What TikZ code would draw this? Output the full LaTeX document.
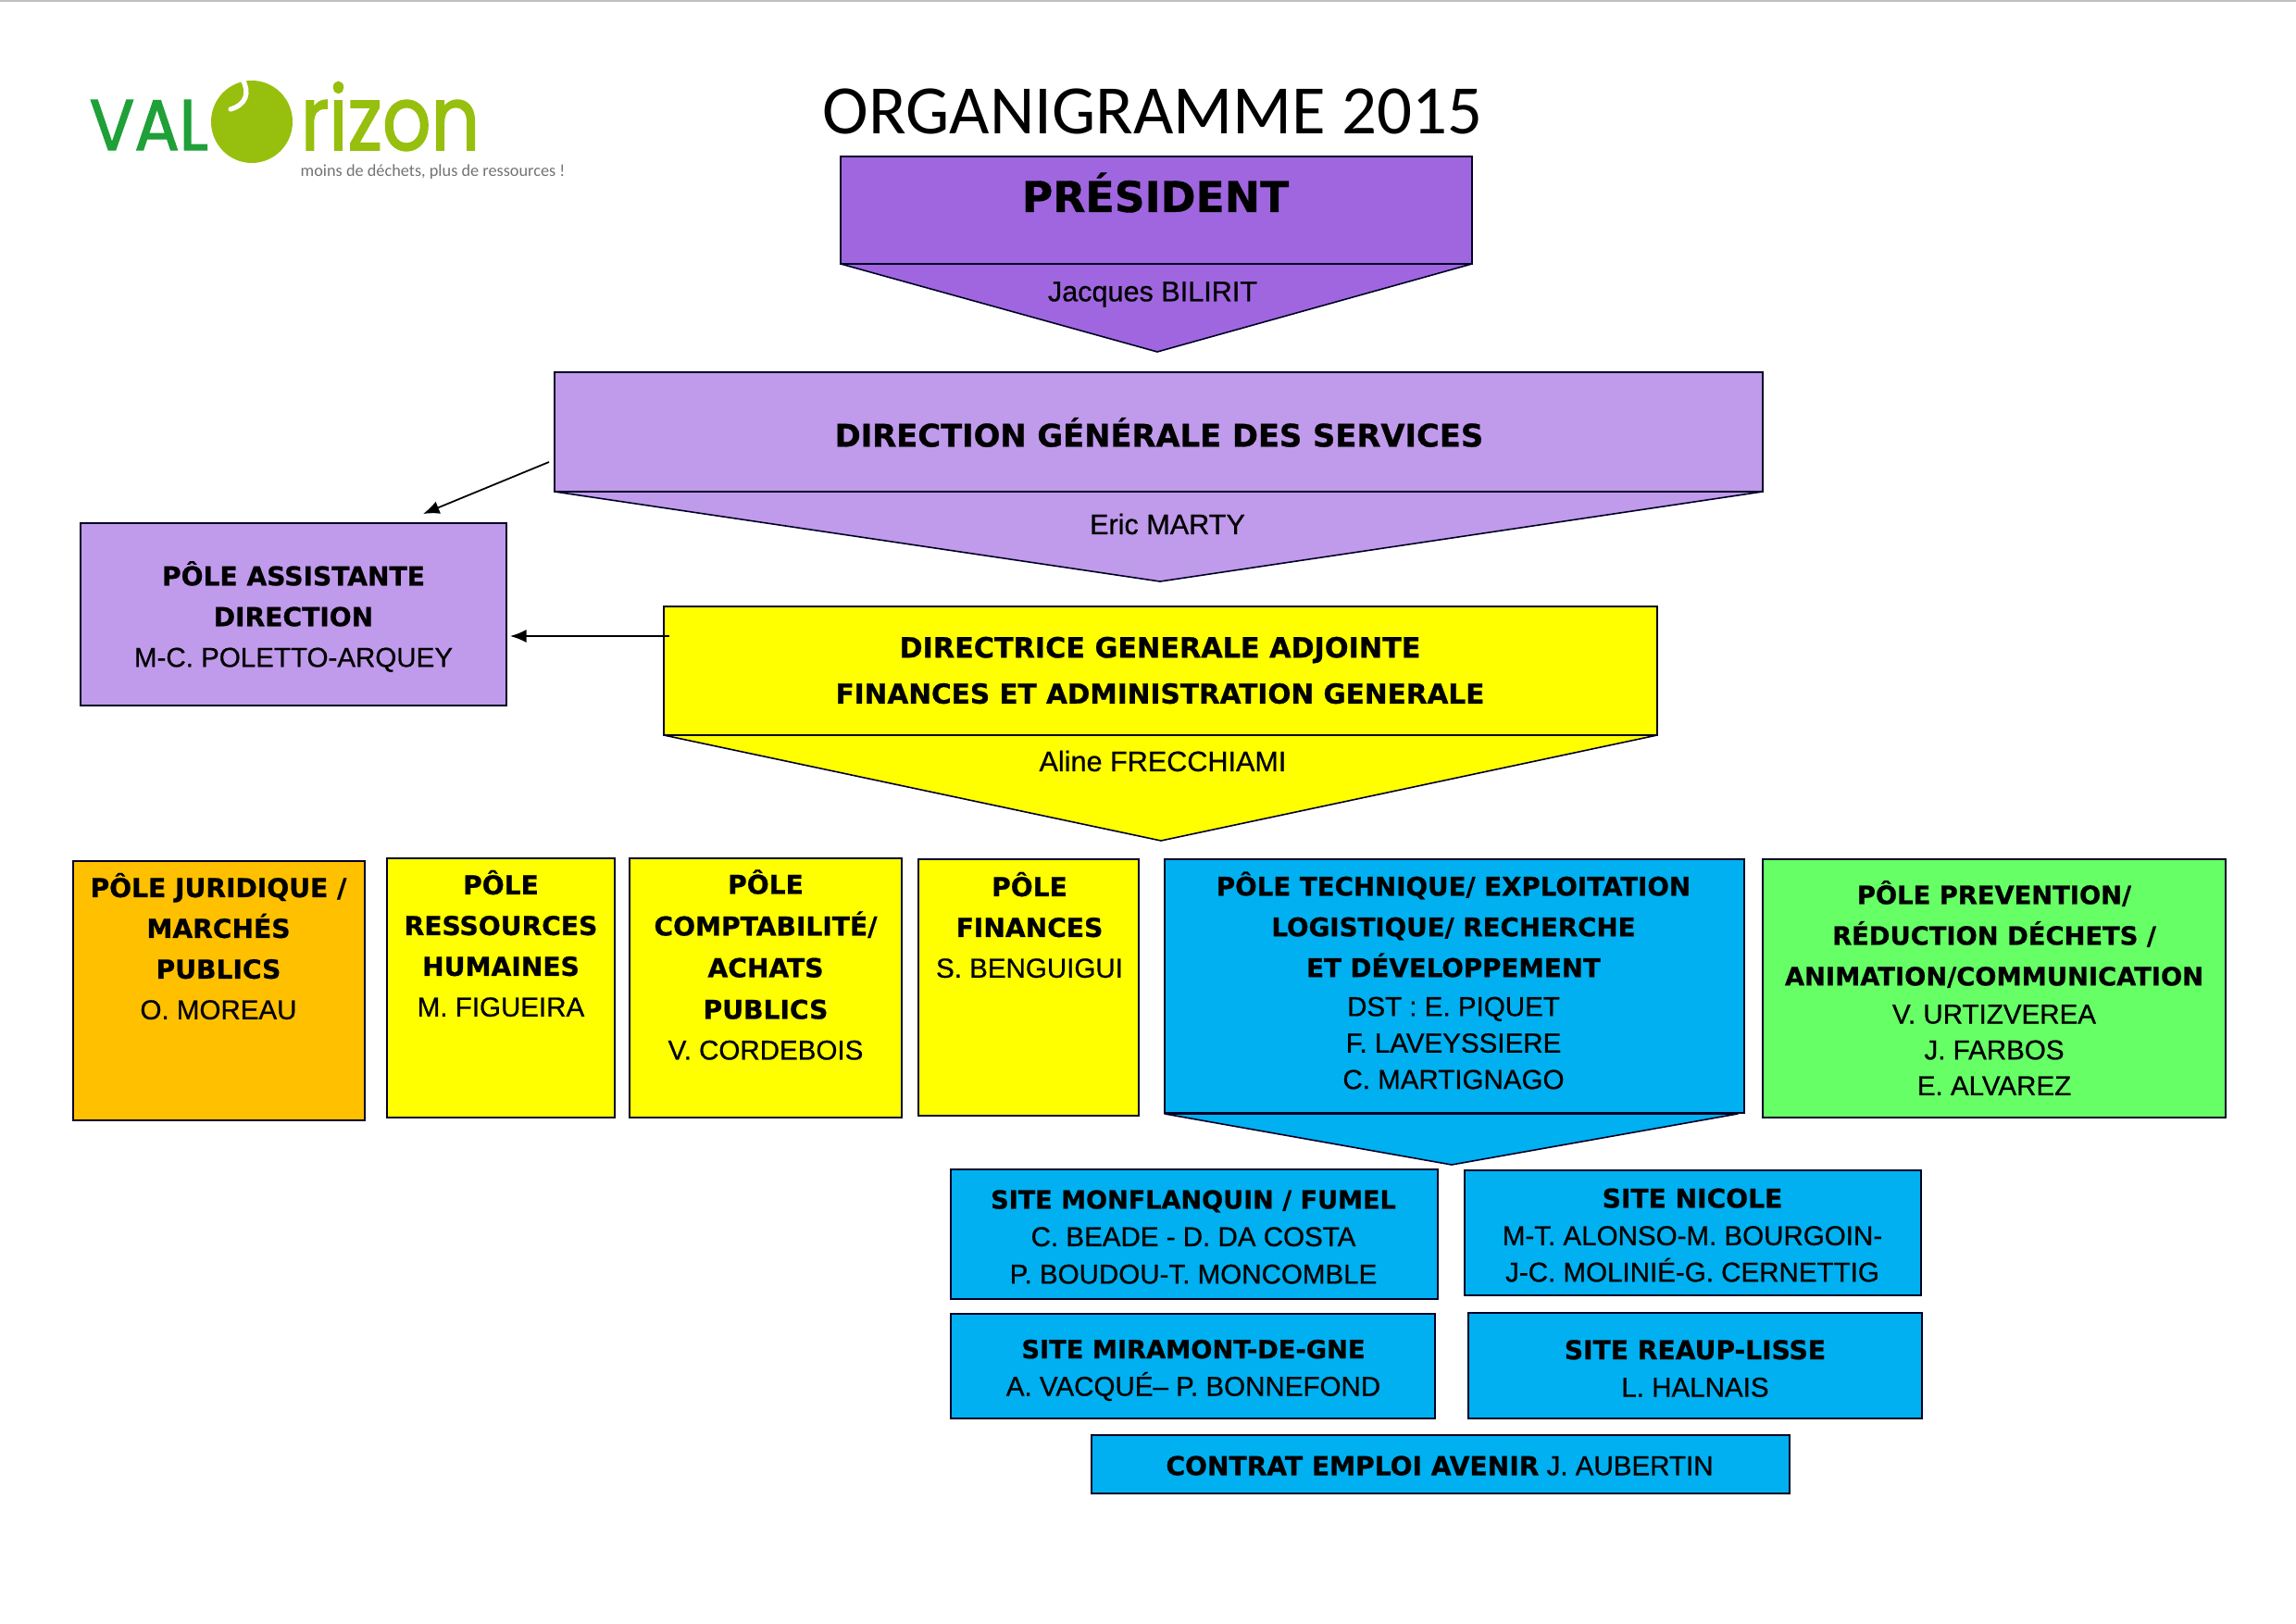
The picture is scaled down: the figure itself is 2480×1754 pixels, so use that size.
\documentclass[tikz,border=0pt]{standalone}
\usepackage{fontspec}
\setmainfont{Liberation Sans}[FakeBold=0.7]
\newfontfamily\blackfont{DejaVu Sans}[BoldFeatures={FakeBold=0.8}]
\newfontfamily\titlefont{Carlito}
\newfontfamily\logovalfont{Poppins}[FakeBold=1.6,FakeStretch=0.93]
\newfontfamily\logorizonfont{Poppins}[FakeBold=1.6,FakeStretch=0.85]
\newfontfamily\sloganfont{Carlito}
\usetikzlibrary{calc,arrows.meta}
\definecolor{prescol}{HTML}{A066E0}
\definecolor{dircol}{HTML}{C09AEB}
\definecolor{jaunecol}{HTML}{FFFF00}
\definecolor{orangecol}{HTML}{FFC000}
\definecolor{bleucol}{HTML}{00B0F0}
\definecolor{vertcol}{HTML}{66FF66}
\definecolor{valcol}{HTML}{1FA038}
\definecolor{rizoncol}{HTML}{97BF0D}
\def\orgbox[#1](#2)(#3,#4)(#5,#6){\node[orgrect,#1,minimum width={(#5-#3)*0.01cm},minimum height={(#6-#4)*0.01cm}] (#2) at ({(#3+#5)/2},{(#4+#6)/2}) {};}
\def\txsize{8}
\def\tx#1{{\blackfont\bfseries\fontsize{\txsize}{12.5}\selectfont #1}}
\tikzset{
	orgrect/.style={draw=black!85!blue,line width=0.45pt,rectangle,inner sep=0pt,outer sep=0pt},
	orgtri/.style={draw=black!85!blue,line width=0.45pt,line join=round},
	orgtxt/.style={align=center,inner sep=0pt,font=\fontsize{8.4}{12.5}\selectfont},
	orghead/.style={align=center,inner sep=0pt,font=\fontsize{8.7}{12.5}\selectfont},
	orgarrow/.style={-{Latex[length=5pt,width=4pt]},line width=0.5pt},
	txs/.code={\def\txsize{#1}}
}

\begin{document}
\begin{tikzpicture}[x=0.01cm,y=-0.01cm]
	\useasboundingbox (0,0) rectangle (2480,1754);
	\draw[black!25,line width=0.6pt] (0,1) -- (2480,1);

	%%%%% LOGO %%%%%
	\fill[rizoncol] (272,131.5) ellipse (44 and 44.5);
	\draw[white,line width=1.5pt,line cap=round] (262,86) .. controls (270,100) and (266,113) .. (249,118);
	\node[font=\logovalfont\fontsize{22}{22}\selectfont,text=valcol,anchor=base west,inner sep=0pt] (logoval) at (96,162) {VAL};
	\node[font=\logorizonfont\fontsize{27.5}{27.5}\selectfont,text=rizoncol,anchor=base west,inner sep=0pt] (logorizon) at (324,162) {rizon};
	\node[font=\sloganfont\fontsize{5.2}{8}\selectfont,text=black!55,anchor=base west,inner sep=0pt] (logoslogan) at (324,190) {moins de déchets, plus de ressources !};

	%%%%% TITLE %%%%%
	\node[font=\titlefont\fontsize{21.3}{24}\selectfont,inner sep=0pt] (title) at (1245,120) {ORGANIGRAMME 2015};

	%%%%% DIRECTION %%%%%
	\orgbox[fill=prescol](pres)(908,169)(1590,285)
	\coordinate (prestip) at (1250,380);
	\draw[orgtri,fill=prescol] (pres.south west) -- (pres.south east) -- (prestip) -- cycle;
	\node[orgtxt,txs=13] (prestext) at (1248,208) {\tx{PRÉSIDENT}};
	\node[orghead] (presname) at (1245,318) {Jacques BILIRIT};

	\orgbox[fill=dircol](dgs)(599,402)(1904,531)
	\coordinate (dgstip) at (1253,628);
	\draw[orgtri,fill=dircol] (dgs.south west) -- (dgs.south east) -- (dgstip) -- cycle;
	\node[orgtxt,txs=9.6] (dgstext) at (1252,467) {\tx{DIRECTION GÉNÉRALE DES SERVICES}};
	\node[orghead] (dgsname) at (1261,566) {Eric MARTY};

	\orgbox[fill=dircol](assist)(87,565)(547,762)
	\node[orgtxt] (assisttext) at (317,666) {\tx{PÔLE ASSISTANTE}\\\tx{DIRECTION}\\M-C. POLETTO-ARQUEY};

	\orgbox[fill=jaunecol](dga)(717,655)(1790,794)
	\coordinate (dgatip) at (1254,908);
	\draw[orgtri,fill=jaunecol] (dga.south west) -- (dga.south east) -- (dgatip) -- cycle;
	\node[orgtxt] (dgatext) at (1253,724) {{\def\txsize{8.6}\tx{DIRECTRICE GENERALE ADJOINTE}}\\[1.6pt]{\def\txsize{8.4}\tx{FINANCES ET ADMINISTRATION GENERALE}}};
	\node[orghead] (dganame) at (1256,822) {Aline FRECCHIAMI};

	\coordinate (dgsout) at (593,499);
	\coordinate (assistin) at (457,555);
	\draw[orgarrow] (dgsout) -- (assistin);
	\coordinate (dgaout) at (723,687);
	\coordinate (assistin2) at (551,687);
	\draw[orgarrow] (dgaout) -- (assistin2);

	%%%%% POLES %%%%%
	\orgbox[fill=orangecol](jur)(79,930)(394,1210)
	\node[orgtxt] (jurtext) at (236,1022) {\tx{PÔLE JURIDIQUE /}\\\tx{MARCHÉS}\\\tx{PUBLICS}\\O. MOREAU};

	\orgbox[fill=jaunecol](rh)(418,927)(664,1207)
	\node[orgtxt] (rhtext) at (541,1019) {\tx{PÔLE}\\\tx{RESSOURCES}\\\tx{HUMAINES}\\M. FIGUEIRA};

	\orgbox[fill=jaunecol](compta)(680,927)(974,1207)
	\node[orgtxt] (comptatext) at (827,1042) {\tx{PÔLE}\\[0.3pt]\tx{COMPTABILITÉ/}\\[0.3pt]\tx{ACHATS}\\[0.3pt]\tx{PUBLICS}\\V. CORDEBOIS};

	\orgbox[fill=jaunecol](fin)(992,928)(1230,1205)
	\node[orgtxt] (fintext) at (1112,999) {\tx{PÔLE}\\\tx{FINANCES}\\S. BENGUIGUI};

	\orgbox[fill=bleucol](tech)(1258,928)(1884,1202)
	\coordinate (techleft) at (1258,1203);
	\coordinate (techright) at (1877,1203);
	\coordinate (techtip) at (1568,1258);
	\draw[orgtri,fill=bleucol] (techleft) -- (techright) -- (techtip) -- cycle;
	\node[orgtxt,txs=7.87] (techtext) at (1570,1059) {\tx{PÔLE TECHNIQUE/ EXPLOITATION}\\\tx{LOGISTIQUE/ RECHERCHE}\\\tx{ET DÉVELOPPEMENT}\\[-0.5pt]DST : E. PIQUET\\[-1.3pt]F. LAVEYSSIERE\\[-1.3pt]C. MARTIGNAGO};

	\orgbox[fill=vertcol](prev)(1904,928)(2404,1207)
	\node[orgtxt,txs=7.77] (prevtext) at (2154,1067) {\tx{PÔLE PREVENTION/}\\\tx{RÉDUCTION DÉCHETS /}\\\tx{ANIMATION/COMMUNICATION}\\[-0.8pt]V. URTIZVEREA\\[-1.5pt]J. FARBOS\\[-1.5pt]E. ALVAREZ};

	%%%%% SITES %%%%%
	\orgbox[fill=bleucol](monf)(1027,1263)(1553,1403)
	\node[orgtxt,txs=7.7] (monftext) at (1289,1336) {\tx{SITE MONFLANQUIN / FUMEL}\\[-1pt]C. BEADE - D. DA COSTA\\[-1pt]P. BOUDOU-T. MONCOMBLE};

	\orgbox[fill=bleucol](nicole)(1582,1264)(2075,1399)
	\node[orgtxt] (nicoletext) at (1828,1334) {\tx{SITE NICOLE}\\[-1pt]M-T. ALONSO-M. BOURGOIN-\\[-1.3pt]J-C. MOLINIÉ-G. CERNETTIG};

	\orgbox[fill=bleucol](mira)(1027,1419)(1550,1532)
	\node[orgtxt,txs=7.75] (miratext) at (1289,1480) {\tx{SITE MIRAMONT-DE-GNE}\\[-1pt]A. VACQUÉ– P. BONNEFOND};

	\orgbox[fill=bleucol](reaup)(1586,1418)(2076,1532)
	\node[orgtxt] (reauptext) at (1831,1478) {\tx{SITE REAUP-LISSE}\\[-1pt]L. HALNAIS};

	\orgbox[fill=bleucol](contrat)(1179,1550)(1933,1613)
	\node[orgtxt] (contrattext) at (1555,1583) {\tx{CONTRAT EMPLOI AVENIR} J. AUBERTIN};
\end{tikzpicture}
\end{document}
